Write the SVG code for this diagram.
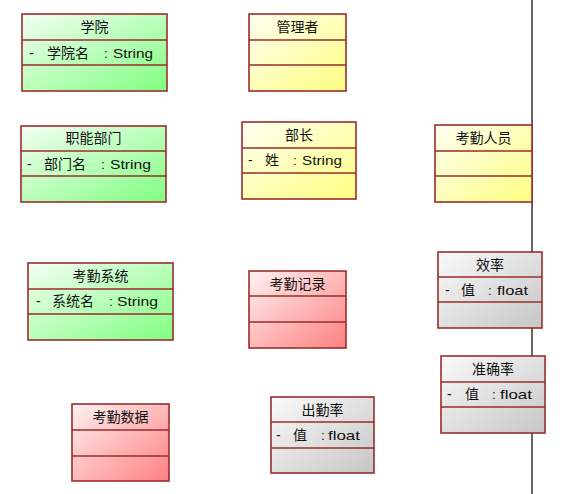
<svg xmlns="http://www.w3.org/2000/svg" width="581" height="494" viewBox="0 0 581 494">
<defs>
<linearGradient id="gG" x1="0" y1="0" x2="1" y2="1"><stop offset="0" stop-color="#F4FFF4"/><stop offset="1" stop-color="#80FF80"/></linearGradient>
<linearGradient id="gY" x1="0" y1="0" x2="1" y2="1"><stop offset="0" stop-color="#FFFFF2"/><stop offset="1" stop-color="#FFFF80"/></linearGradient>
<linearGradient id="gR" x1="0" y1="0" x2="1" y2="1"><stop offset="0" stop-color="#FFF2F2"/><stop offset="1" stop-color="#FF8080"/></linearGradient>
<linearGradient id="gS" x1="0" y1="0" x2="1" y2="1"><stop offset="0" stop-color="#FAFAFA"/><stop offset="1" stop-color="#C6C6C6"/></linearGradient>
<style>
.b{stroke:#9B2C2C;stroke-width:1.6}
.d{stroke:#9B2C2C;stroke-width:1.6;fill:none}
.t{font-family:"Liberation Sans","Noto Sans CJK SC",sans-serif;font-size:14px;fill:#111}
.h{text-anchor:middle}
.l{font-size:13.5px}
</style>
</defs>
<g id="connectors">
<line x1="532" y1="0" x2="532" y2="494" stroke="#333" stroke-width="1.5"/>
</g>
<g id="xueyuan">
<rect class="b" x="22" y="14" width="145" height="77" fill="url(#gG)"/>
<path class="d" d="M22 40H167M22 65H167"/>
<text class="t h" x="94.5" y="32">学院</text>
<text class="t" y="58"><tspan x="29">-</tspan><tspan x="47">学院名</tspan><tspan class="l" x="104">:</tspan><tspan class="l" x="113" textLength="40" lengthAdjust="spacingAndGlyphs">String</tspan></text>
</g>
<g id="guanlizhe">
<rect class="b" x="249" y="14" width="97" height="77" fill="url(#gY)"/>
<path class="d" d="M249 40H346M249 65H346"/>
<text class="t h" x="297.5" y="32">管理者</text>
</g>
<g id="zhinengbumen">
<rect class="b" x="21" y="126" width="145" height="76" fill="url(#gG)"/>
<path class="d" d="M21 151H166M21 176H166"/>
<text class="t h" x="93.5" y="143">职能部门</text>
<text class="t" y="169"><tspan x="27">-</tspan><tspan x="44">部门名</tspan><tspan class="l" x="101">:</tspan><tspan class="l" x="110" textLength="41" lengthAdjust="spacingAndGlyphs">String</tspan></text>
</g>
<g id="buzhang">
<rect class="b" x="242" y="122" width="114" height="77" fill="url(#gY)"/>
<path class="d" d="M242 148H356M242 173H356"/>
<text class="t h" x="299" y="140">部长</text>
<text class="t" y="165"><tspan x="248">-</tspan><tspan x="265">姓</tspan><tspan class="l" x="293">:</tspan><tspan class="l" x="302" textLength="40" lengthAdjust="spacingAndGlyphs">String</tspan></text>
</g>
<g id="kaoqinrenyuan">
<rect class="b" x="435" y="125" width="97" height="77" fill="url(#gY)"/>
<path class="d" d="M435 151H532M435 176H532"/>
<text class="t h" x="483.5" y="143">考勤人员</text>
</g>
<g id="kaoqinxitong">
<rect class="b" x="28" y="263" width="145" height="77" fill="url(#gG)"/>
<path class="d" d="M28 289H173M28 314H173"/>
<text class="t h" x="100.5" y="281">考勤系统</text>
<text class="t" y="306"><tspan x="36">-</tspan><tspan x="52">系统名</tspan><tspan class="l" x="109">:</tspan><tspan class="l" x="117" textLength="41" lengthAdjust="spacingAndGlyphs">String</tspan></text>
</g>
<g id="kaoqinjilu">
<rect class="b" x="249" y="271" width="97" height="77" fill="url(#gR)"/>
<path class="d" d="M249 296H346M249 322H346"/>
<text class="t h" x="297.5" y="289">考勤记录</text>
</g>
<g id="xiaolv">
<rect class="b" x="438" y="252" width="104" height="76" fill="url(#gS)"/>
<path class="d" d="M438 277H542M438 302H542"/>
<text class="t h" x="490" y="270">效率</text>
<text class="t" y="295"><tspan x="445">-</tspan><tspan x="461">值</tspan><tspan class="l" x="488">:</tspan><tspan class="l" x="497" textLength="31" lengthAdjust="spacingAndGlyphs">float</tspan></text>
</g>
<g id="zhunquelv">
<rect class="b" x="441" y="356" width="104" height="77" fill="url(#gS)"/>
<path class="d" d="M441 382H545M441 407H545"/>
<text class="t h" x="493" y="374">准确率</text>
<text class="t" y="399"><tspan x="447">-</tspan><tspan x="465">值</tspan><tspan class="l" x="492">:</tspan><tspan class="l" x="500" textLength="32" lengthAdjust="spacingAndGlyphs">float</tspan></text>
</g>
<g id="kaoqinshuju">
<rect class="b" x="72" y="404" width="97" height="77" fill="url(#gR)"/>
<path class="d" d="M72 430H169M72 456H169"/>
<text class="t h" x="120.5" y="422">考勤数据</text>
</g>
<g id="chuqinlv">
<rect class="b" x="271" y="397" width="103" height="76" fill="url(#gS)"/>
<path class="d" d="M271 422H374M271 448H374"/>
<text class="t h" x="322.5" y="415">出勤率</text>
<text class="t" y="440"><tspan x="276">-</tspan><tspan x="293">值</tspan><tspan class="l" x="321">:</tspan><tspan class="l" x="328" textLength="32" lengthAdjust="spacingAndGlyphs">float</tspan></text>
</g>
</svg>
